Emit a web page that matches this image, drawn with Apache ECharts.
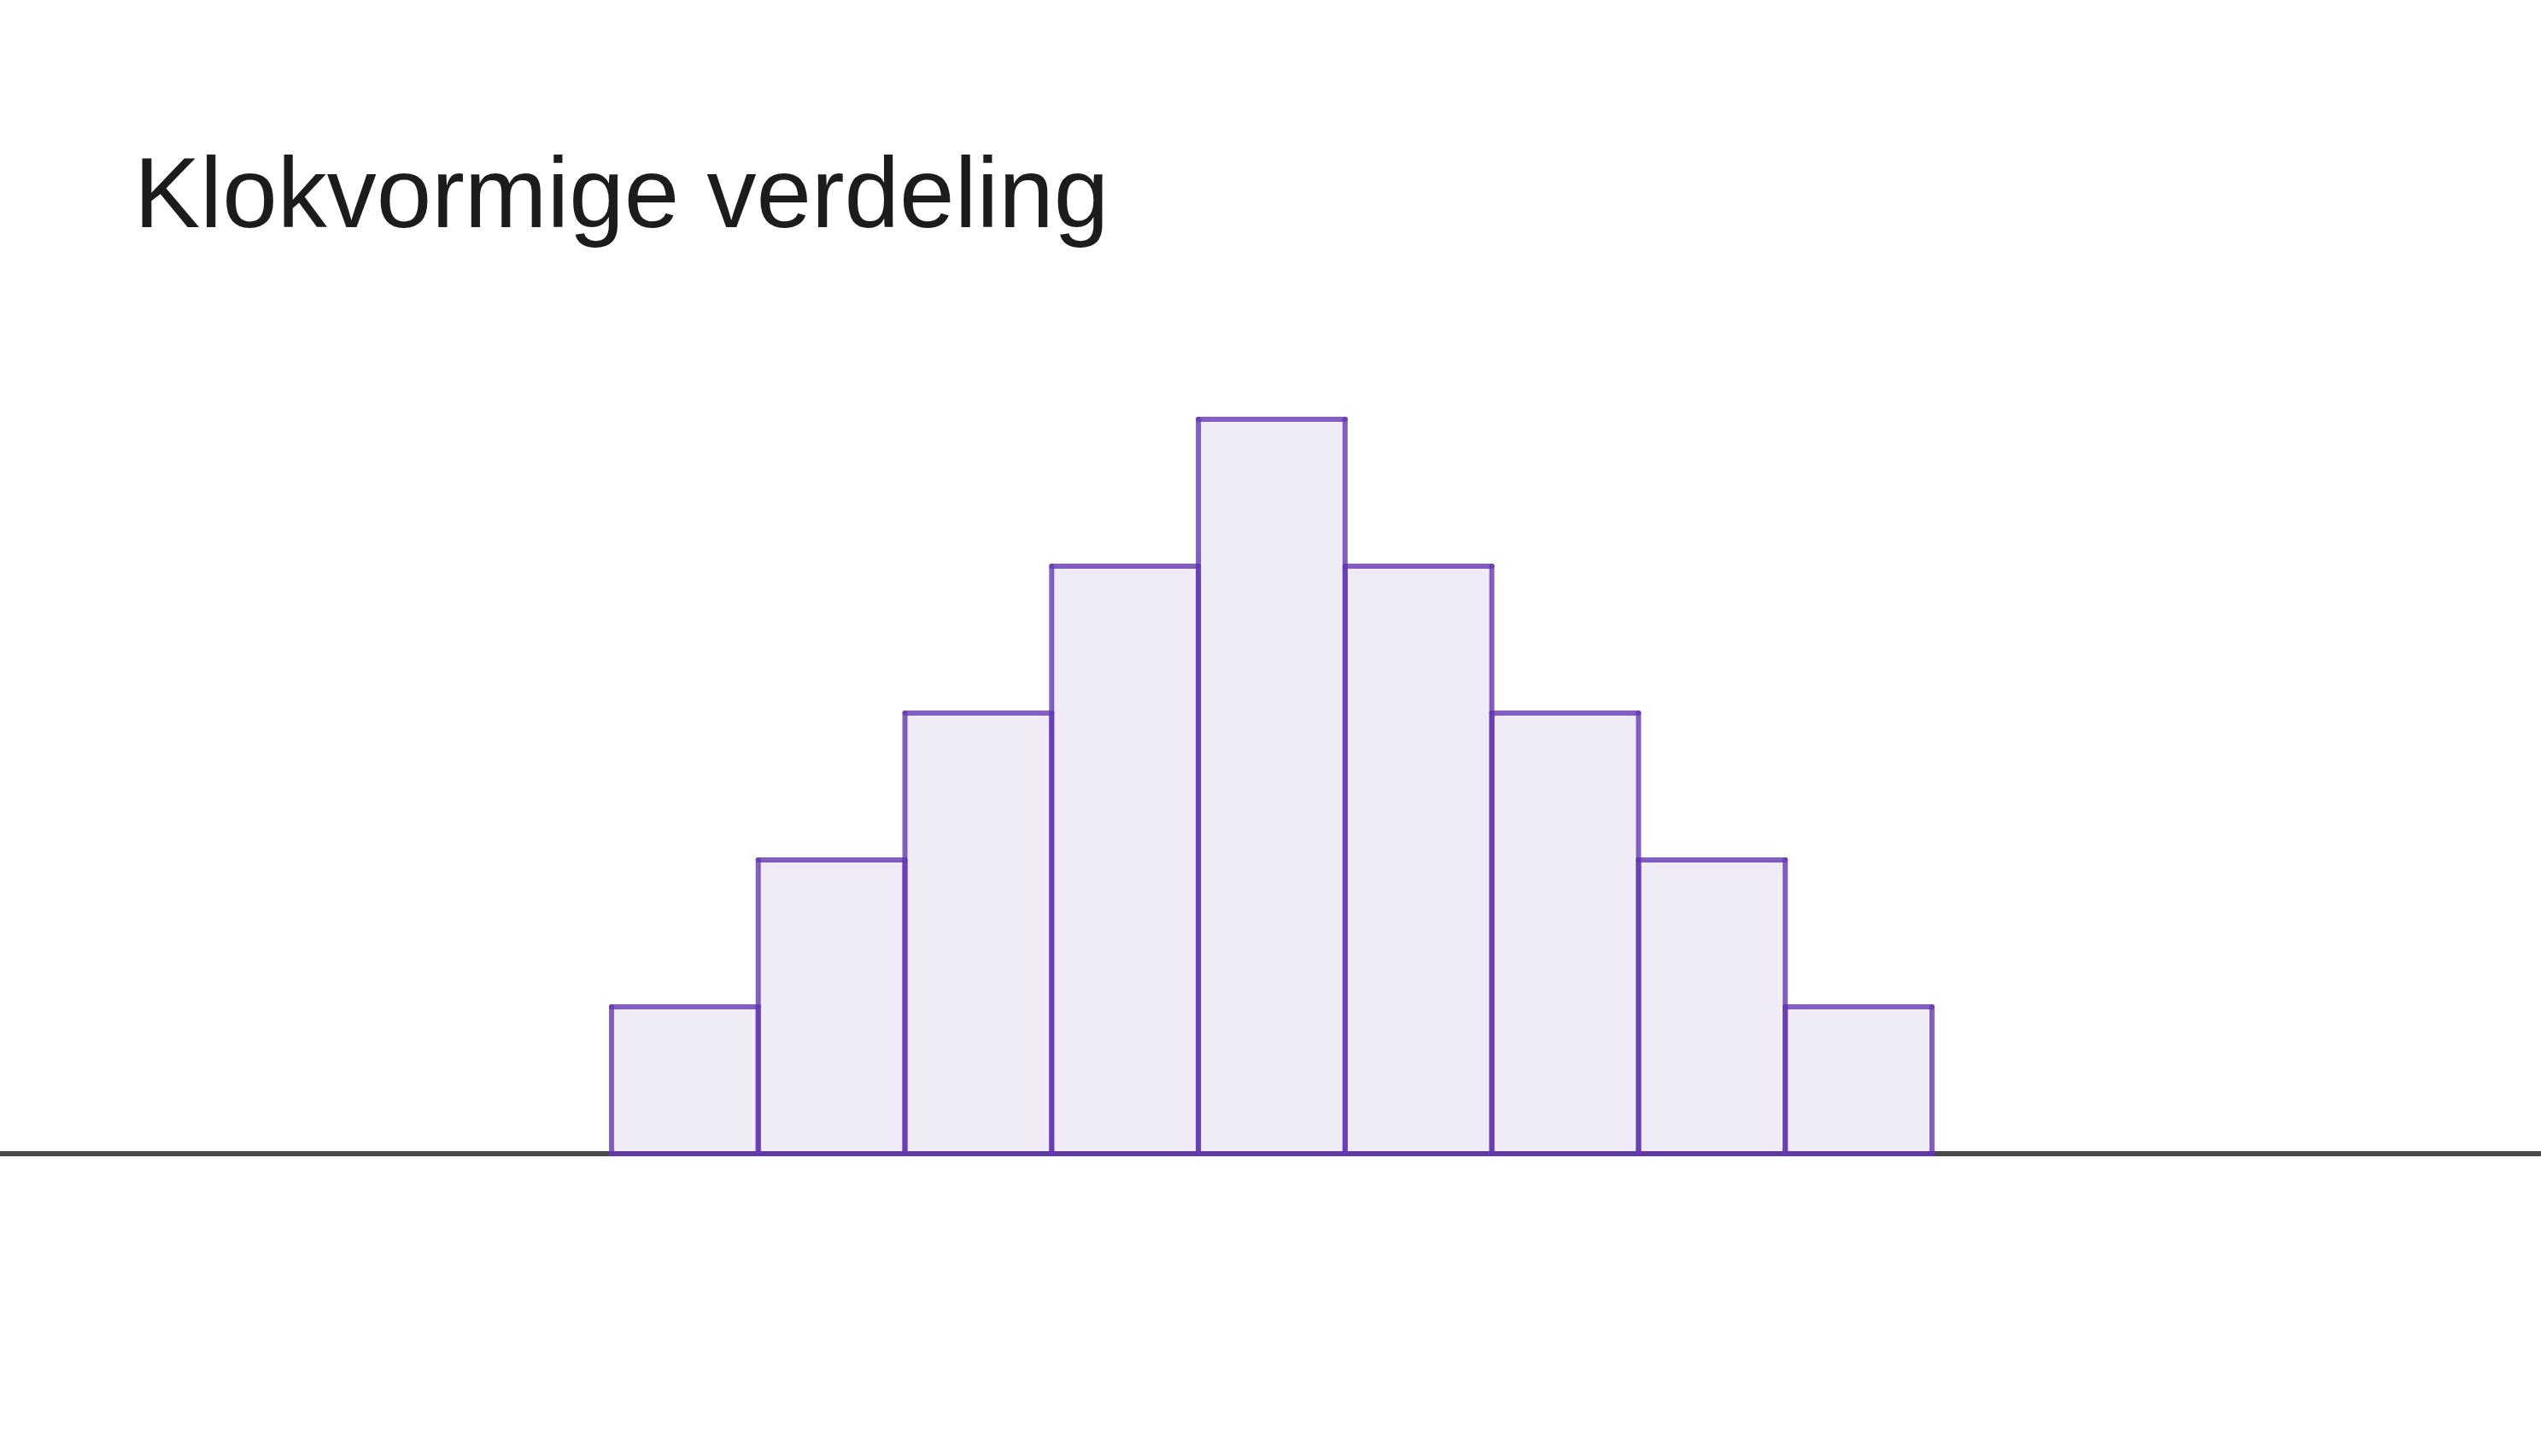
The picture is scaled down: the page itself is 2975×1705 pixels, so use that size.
<!DOCTYPE html>
<html>
<head>
<meta charset="utf-8">
<script src="https://cdn.jsdelivr.net/npm/echarts@6/dist/echarts.min.js"></script>
<style>
html,body{margin:0;padding:0;background:#fff;}
#chart{width:2975px;height:1705px;}
</style>
</head>
<body>
<div id="chart"></div>
<script>
// Data
const titleText = 'Klokvormige verdeling';
const binStarts = [0, 1, 2, 3, 4, 5, 6, 7, 8];
const binEnds   = [1, 2, 3, 4, 5, 6, 7, 8, 9];
const counts    = [1, 2, 3, 4, 5, 4, 3, 2, 1];

const strokeColor = 'rgba(101,56,178,0.8)';
const fillColor = 'rgba(101,56,178,0.1)';

const chart = echarts.init(document.getElementById('chart'));
const seriesData = binStarts.map((s, i) => [s, binEnds[i], counts[i]]);

chart.setOption({
  animation: false,
  backgroundColor: '#ffffff',
  title: {
    text: titleText,
    left: 152,
    top: 171,
    textStyle: {
      fontFamily: '"Liberation Sans", Arial, sans-serif',
      fontSize: 116,
      fontWeight: 'normal',
      color: '#1c1c1c'
    }
  },
  grid: { left: 0, right: 0, top: 491, bottom: 354, containLabel: false },
  xAxis: {
    type: 'value',
    min: -4.168,
    max: 13.151,
    axisLine: { show: true, onZero: true, lineStyle: { color: '#4a4a4a', width: 6 } },
    axisTick: { show: false },
    axisLabel: { show: false },
    splitLine: { show: false }
  },
  yAxis: {
    type: 'value',
    min: 0,
    max: 5,
    show: false,
    splitLine: { show: false }
  },
  series: [{
    type: 'custom',
    clip: false,
    data: seriesData,
    renderItem: function (params, api) {
      const x0 = api.value(0), x1 = api.value(1), h = api.value(2);
      const p0 = api.coord([x0, 0]);
      const p1 = api.coord([x1, h]);
      const L = p0[0], R = p1[0], B = p0[1], T = p1[1];
      const lineStyle = { stroke: strokeColor, lineWidth: 6, lineCap: 'round' };
      return {
        type: 'group',
        children: [
          { type: 'rect', shape: { x: L, y: T, width: R - L, height: B - T }, style: { fill: fillColor } },
          { type: 'line', shape: { x1: L, y1: B, x2: L, y2: T }, style: lineStyle },
          { type: 'line', shape: { x1: L, y1: T, x2: R, y2: T }, style: lineStyle },
          { type: 'line', shape: { x1: R, y1: T, x2: R, y2: B }, style: lineStyle },
          { type: 'line', shape: { x1: R, y1: B, x2: L, y2: B }, style: lineStyle }
        ]
      };
    }
  }]
});
</script>
</body>
</html>
